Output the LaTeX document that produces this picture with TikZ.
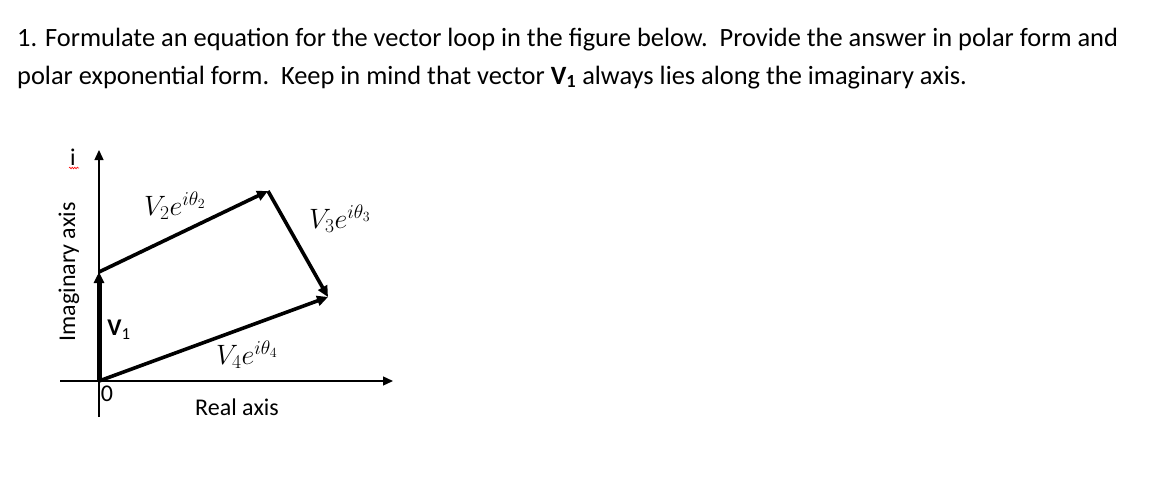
\documentclass[tikz,border=0pt]{standalone}
\usepackage{fix-cm}
\usepackage{fontspec}
\setmainfont{Carlito}
\usetikzlibrary{arrows.meta,decorations.pathmorphing}

\begin{document}
\begin{tikzpicture}[x=1pt,y=-1pt]
	\newcommand{\vw}{3.6pt} % width of the loop vectors
	\newcommand{\txt}{\fontsize{26.4}{31}\selectfont}
	\newcommand{\lbl}{\fontsize{24}{28}\selectfont}
	\newcommand{\mlbl}{\fontsize{28}{32}\selectfont}

	% set the styles
	\tikzset{
		axis/.style={
			line width=1.3pt,
			-{Triangle[length=10pt,width=9pt]}
			},
		vec/.style={
			line width=\vw,
			-{Triangle[length=11pt,width=10pt]}
			},
		tag/.style={
			font=\lbl,
			inner sep=0pt
			},
		mtag/.style={
			tag,
			font=\mlbl
			}
	}
	\useasboundingbox (0,0) rectangle (1160,490);

	% question
	\node[anchor=base west, font=\txt, inner sep=0pt] (qa) at (17,46) {1. Formulate an equation for the vector loop in the figure below.\ \ Provide the answer in polar form and};
	\node[anchor=base west, font=\txt, inner sep=0pt] (qb) at (17,84) {polar exponential form.\ \ Keep in mind that vector \textbf{V\textsubscript{1}} always lies along the imaginary axis.};

	% axes
	\coordinate (o) at (99,381);
	\coordinate (ibot) at (99,417);
	\coordinate (itop) at (99,150);
	\coordinate (rleft) at (60,381);
	\coordinate (rright) at (393,381);
	\draw[axis] (ibot) -- (itop);
	\draw[axis] (rleft) -- (rright);

	% loop corners
	\coordinate (a) at (99,272);
	\coordinate (b) at (268,191);
	\coordinate (c) at (328,297);

	% vectors
	\draw[vec, line width=5pt] (o) -- (a);
	\draw[vec] (a) -- (b);
	\draw[vec] (b) -- (c);
	\draw[vec] (o) -- (c);

	% labels
	\node[tag] (i) at (73,157) {i};
	\draw[red, line width=0.6pt, decorate, decoration={snake, amplitude=0.8pt, segment length=2.5pt}] (69,168) -- (79,168);
	\node[tag, rotate=90] (iaxis) at (69,272) {Imaginary axis};
	\node[tag] (zero) at (107,394) {0};
	\node[tag] (raxis) at (237,407) {Real axis};
	\node[tag] (v1) at (119,330) {\textbf{V}\textsubscript{1}};
	\node[mtag] (v2) at (175,206) {$V_2e^{i\theta_2}$};
	\node[mtag] (v3) at (340,219) {$V_3e^{i\theta_3}$};
	\node[mtag] (v4) at (247,355) {$V_4e^{i\theta_4}$};
\end{tikzpicture}
\end{document}
